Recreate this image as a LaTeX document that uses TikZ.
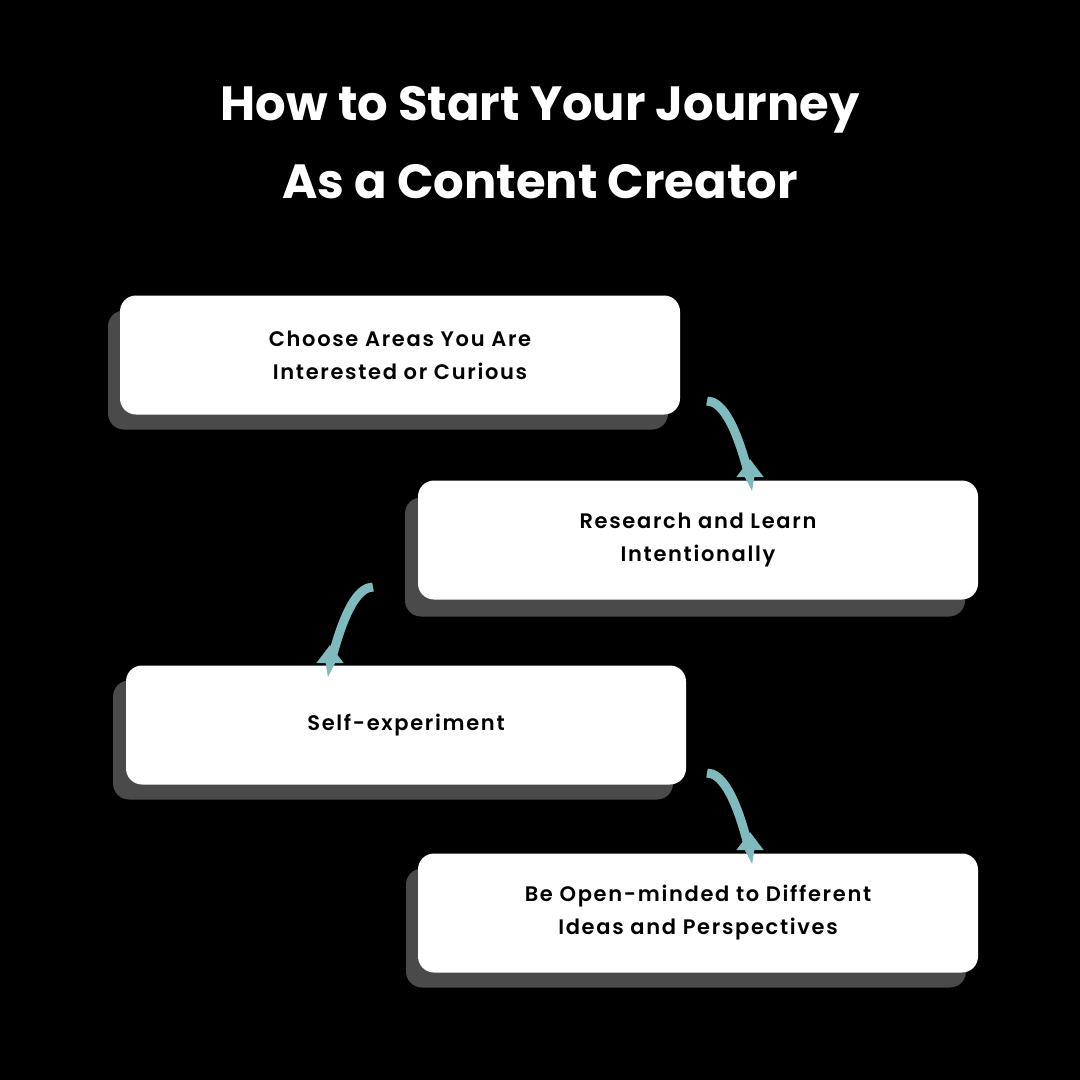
\documentclass[tikz,border=0pt]{standalone}
\usepackage{fontspec}
\setmainfont{Poppins}
\newfontfamily\boxfont[LetterSpace=8]{Poppins SemiBold}
\usetikzlibrary{arrows.meta}
\definecolor{teal}{HTML}{7FBBBE}
\definecolor{shade}{HTML}{4A4A4A}
\tikzset{
 card/.style={fill=white,rounded corners=16pt,minimum width=560pt,minimum height=119pt,align=center,font=\boxfont\fontsize{21}{33}\selectfont,text=black},
 shadowcard/.style={fill=shade,rounded corners=16pt,minimum width=560pt,minimum height=119pt},
 flow/.style={draw=teal,line width=9pt,-{Triangle[width=26pt,length=18pt]}},
}
\begin{document}
\begin{tikzpicture}[x=1pt,y=-1pt]
\fill[black] (0,0) rectangle (1080,1080);
\useasboundingbox (0,0) rectangle (1080,1080);
\node[text=white,align=center,font=\bfseries\fontsize{48}{78}\selectfont] (title) at (540,143) {How to Start Your Journey\\As a Content Creator};
\node[shadowcard] (s1) at (388,370) {};
\node[shadowcard] (s2) at (685,557) {};
\node[shadowcard] (s3) at (393,740) {};
\node[shadowcard] (s4) at (686,928) {};
\node[card] (b1) at (400,355) {Choose Areas You Are\\Interested or Curious};
\node[card] (b2) at (698,540) {Research and Learn\\Intentionally};
\node[card] (b3) at (406,725) {Self-experiment};
\node[card] (b4) at (698,913) {Be Open-minded to Different\\Ideas and Perspectives};
\coordinate (a1s) at (707,401); \coordinate (a1e) at (750,459);
\coordinate (a2s) at (373,587); \coordinate (a2e) at (330,645);
\coordinate (a3s) at (707,773); \coordinate (a3e) at (750,832);
\draw[flow] (a1s) to[out=0,in=-90] (a1e);
\draw[flow] (a2s) to[out=180,in=-90] (a2e);
\draw[flow] (a3s) to[out=0,in=-90] (a3e);
\end{tikzpicture}
\end{document}
